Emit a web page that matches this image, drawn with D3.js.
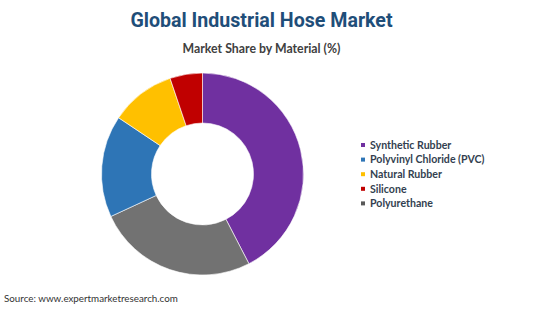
<!DOCTYPE html>
<html>
<head>
<meta charset="utf-8">
<script src="https://d3js.org/d3.v7.min.js"></script>
<style>
  body { margin: 0; background: #fff; }
</style>
</head>
<body>
<div id="chart"></div>
<script>
// Slice order follows the drawing (clockwise from 12 o'clock)
const materials = ["Synthetic Rubber", "Polyurethane", "Polyvinyl Chloride (PVC)", "Natural Rubber", "Silicone"];
const shares = [42.4, 25.7, 16.3, 10.4, 5.2];
const legendOrder = ["Synthetic Rubber", "Polyvinyl Chloride (PVC)", "Natural Rubber", "Silicone", "Polyurethane"];
const colours = {
    "Synthetic Rubber": "#7030A0",
    "Polyvinyl Chloride (PVC)": "#2E75B6",
    "Natural Rubber": "#FFC000",
    "Silicone": "#C00000",
    "Polyurethane": "url(#grayGrad)"
};
const legendColours = {
    "Synthetic Rubber": "#7030A0",
    "Polyvinyl Chloride (PVC)": "#2E75B6",
    "Natural Rubber": "#FFC000",
    "Silicone": "#C00000",
    "Polyurethane": "#595959"
};

const width = 550, height = 309;
const cx = 202.5, cy = 174, outerR = 101, innerR = 51;

const svg = d3.select("#chart").append("svg")
    .attr("width", width)
    .attr("height", height);

const defs = svg.append("defs");
const grad = defs.append("linearGradient")
    .attr("id", "grayGrad")
    .attr("gradientUnits", "userSpaceOnUse")
    .attr("x1", 0).attr("y1", cy)
    .attr("x2", 0).attr("y2", cy + outerR);
grad.append("stop").attr("offset", "0%").attr("stop-color", "#727272");
grad.append("stop").attr("offset", "100%").attr("stop-color", "#535353");

// titles
svg.append("text")
    .attr("x", 261.5).attr("y", 27)
    .attr("text-anchor", "middle")
    .style("font-family", "Roboto, sans-serif")
    .style("font-weight", "bold")
    .style("font-size", "19.6px")
    .style("fill", "#1F4E79")
    .text("Global Industrial Hose Market");

svg.append("text")
    .attr("x", 261.5).attr("y", 53)
    .attr("text-anchor", "middle")
    .style("font-family", "Lato, sans-serif")
    .style("font-weight", "bold")
    .style("font-size", "12.3px")
    .style("fill", "#404040")
    .text("Market Share by Material (%)");

// donut
const data = materials.map((m, i) => ({ name: m, value: shares[i] }));
const pie = d3.pie().sort(null).value(d => d.value);
const arc = d3.arc().innerRadius(innerR).outerRadius(outerR);

svg.append("g")
    .attr("transform", `translate(${cx},${cy})`)
    .selectAll("path")
    .data(pie(data))
    .join("path")
    .attr("d", arc)
    .attr("fill", d => colours[d.data.name])
    .attr("stroke", "#fff")
    .attr("stroke-width", 0.6);

// legend
const legend = svg.append("g").attr("transform", "translate(363,145)");
const rows = legend.selectAll("g")
    .data(legendOrder)
    .join("g")
    .attr("transform", (d, i) => `translate(0,${i * 14.6})`);
rows.append("rect")
    .attr("x", -2).attr("y", -2)
    .attr("width", 4).attr("height", 4)
    .attr("fill", d => legendColours[d]);
rows.append("text")
    .attr("x", 7).attr("y", 3.7)
    .style("font-family", "Lato, sans-serif")
    .style("font-weight", "bold")
    .style("font-size", "10.6px")
    .style("fill", "#333F50")
    .text(d => d);

// source
svg.append("text")
    .attr("x", 4).attr("y", 302)
    .style("font-family", "Lato, sans-serif")
    .style("font-size", "9.8px")
    .style("fill", "#333")
    .text("Source: www.expertmarketresearch.com");
</script>
</body>
</html>
